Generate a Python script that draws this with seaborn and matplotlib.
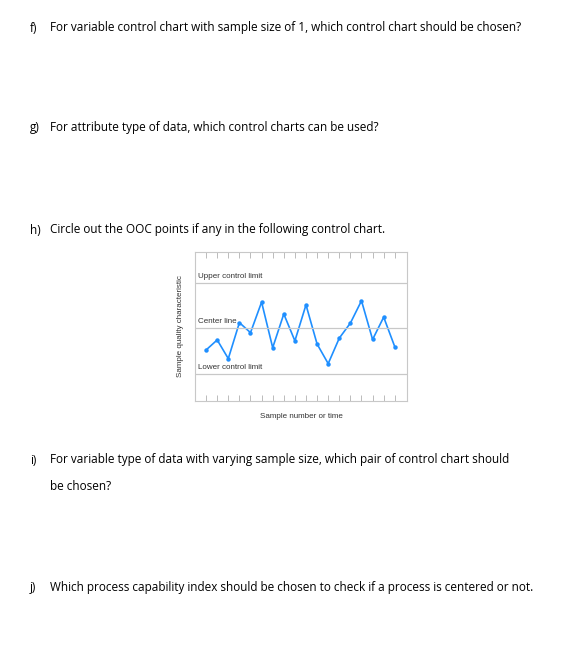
import matplotlib
matplotlib.use("Agg")
import matplotlib.pyplot as plt
import seaborn as sns
import pandas as pd

samples = list(range(1, 19))
values = [-0.49, -0.27, -0.68, 0.11, -0.11, 0.56, -0.44, 0.30, -0.29, 0.50,
          -0.36, -0.79, -0.23, 0.10, 0.59, -0.26, 0.23, -0.42]
limits = {"Upper control limit": 0.98, "Center line": 0.0, "Lower control limit": -1.02}

sns.set_style("white")
plt.rcParams['font.family'] = ['Liberation Sans', 'DejaVu Sans']

fig = plt.figure(figsize=(5.73, 6.48), dpi=100)

questions = [
    (28, "f)", "For variable control chart with sample size of 1, which control chart should be chosen?"),
    (128, "g)", "For attribute type of data, which control charts can be used?"),
    (230, "h)", "Circle out the OOC points if any in the following control chart."),
    (460, "i)", "For variable type of data with varying sample size, which pair of control chart should"),
    (486, "", "be chosen?"),
    (587, "j)", "Which process capability index should be chosen to check if a process is centered or not."),
]
for y, lab, txt in questions:
    if lab:
        fig.text(30/573, 1 - y/648, lab, fontsize=8.5, va="center", ha="left", color="black",
                 family=['Open Sans', 'DejaVu Sans'])
    fig.text(50/573, 1 - y/648, txt, fontsize=8.5, va="center", ha="left", color="black",
             family=['Open Sans', 'DejaVu Sans'])

ax = fig.add_axes([195/573, 1 - 401/648, 212/573, 149/648])
df = pd.DataFrame({"sample": samples, "value": values})
sns.lineplot(data=df, x="sample", y="value", ax=ax, color="#1f8fff", lw=1.2,
             marker="o", markersize=3.2, markeredgewidth=0)
for name, v in limits.items():
    ax.text(0.3, v + 0.06, name, fontsize=5.8, color="#333333", ha="left", va="bottom")
    ax.axhline(v, color="#c8c8c8", lw=0.9)
ax.set_xlim(0.0, 19.1)
ax.set_ylim(-1.61, 1.66)
ax.set_xticks(samples)
ax.set_xticklabels([])
ax.set_yticks([])
ax.tick_params(axis="x", direction="in", length=4, color="#bbbbbb", top=True, bottom=True, width=0.7)
for s in ax.spines.values():
    s.set_color("#c8c8c8")
    s.set_linewidth(0.8)
ax.set_xlabel("Sample number or time", fontsize=5.8, color="#333333", labelpad=5)
ax.set_ylabel("Sample quality characteristic", fontsize=5.8, color="#333333", labelpad=8)

fig.savefig("out.png", dpi=100)
